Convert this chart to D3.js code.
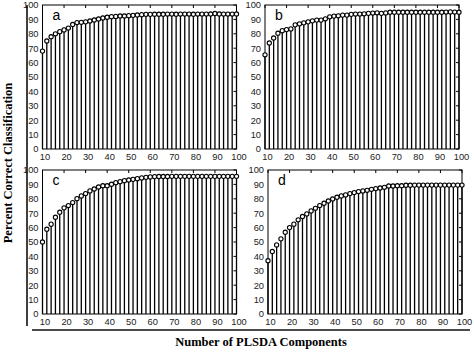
<!DOCTYPE html>
<html><head><meta charset="utf-8">
<script src="https://cdn.jsdelivr.net/npm/d3@7"></script>
<style>
html,body{margin:0;padding:0;background:#fff;}
svg{display:block;}
</style></head>
<body>
<svg id="chart" width="474" height="353"></svg>
<script>
// ---- data ----
const components = d3.range(10, 101, 2); // 10,12,...,100
const xTicks = [10,20,30,40,50,60,70,80,90,100];
const yTicks = [0,10,20,30,40,50,60,70,80,90,100];
const panelLabels = ["a","b","c","d"];
const seriesA = [68,75,78,80,81.5,82.7,84,86.5,87.8,88,88.3,88.9,89.6,90.3,91,91.5,91.9,92.1,92.4,92.4,92.6,92.8,93.1,93.3,93.5,93.5,93.6,93.6,93.6,93.7,93.7,93.6,93.7,93.7,93.7,93.6,93.7,93.7,93.7,93.8,94.1,93.8,93.7,93.7,93.7,93.8];
const seriesB = [65.4,73.6,77.1,80.4,82.2,82.9,83.4,86.2,86.9,87.6,88.3,89,89.5,89.5,90.4,91.8,92.3,92.5,93,93,93.5,93.7,93.7,93.9,94.2,94.4,94.6,94.2,94.5,95,95,95,95,95,95,95,95,95,95,95,95,95,95.1,95.2,95.1,95];
const seriesC = [50,58.9,62.4,67.2,70.7,73.7,75.3,77.4,80.1,82,83.6,85.5,86.8,88.2,89.1,89.1,90.1,91.2,91.9,92.6,93.1,93.5,94,94.5,94.9,95.2,95.4,95.5,95.5,95.5,95.6,95.6,95.6,95.6,95.6,95.6,95.6,95.6,95.6,95.6,95.6,95.6,95.6,95.6,95.6,95.6];
const seriesD = [37,43.4,48,52.2,56.8,60,62.4,65.4,67.7,69.5,71.6,73.4,75.3,76.9,78.5,79.9,81.1,82,82.7,83.6,84.3,85,85.5,85.9,86.6,87.1,87.5,88,88.9,88.9,89.1,89.1,89.4,89.4,89.5,89.5,89.5,89.5,89.5,89.5,89.5,89.5,89.5,89.5,89.5,89.5];
const allSeries = [seriesA, seriesB, seriesC, seriesD];
const yTitle = "Percent Correct Classification";
const xTitle = "Number of PLSDA Components";

// ---- layout ----
const panels = [
  {x0:42.5, x1:236.5, y0:5, y1:149},
  {x0:265,  x1:459,   y0:5, y1:149},
  {x0:42.5, x1:236.5, y0:170, y1:314},
  {x0:268,  x1:462,   y0:170, y1:314}
];
const svg = d3.select("#chart");
const tickFont = "Liberation Sans, Arial, sans-serif";

panels.forEach((p, i) => {
  const x = d3.scaleLinear().domain([10,100]).range([p.x0, p.x1]);
  const y = d3.scaleLinear().domain([0,100]).range([p.y1, p.y0]);
  const g = svg.append("g");
  const data = components.map((c, k) => ({c, v: allSeries[i][k]}));

  // stems
  g.selectAll("line.stem").data(data).enter().append("line")
    .attr("x1", d => x(d.c)).attr("x2", d => x(d.c))
    .attr("y1", y(0)).attr("y2", d => y(d.v))
    .attr("stroke", "#000").attr("stroke-width", 1.3);

  // frame
  g.append("rect").attr("x", p.x0).attr("y", p.y0)
    .attr("width", p.x1 - p.x0).attr("height", p.y1 - p.y0)
    .attr("fill", "none").attr("stroke", "#000").attr("stroke-width", 1);

  // inward ticks top / right
  g.selectAll("line.tt").data(xTicks).enter().append("line")
    .attr("x1", d => x(d)).attr("x2", d => x(d))
    .attr("y1", p.y0).attr("y2", p.y0 + 3).attr("stroke", "#000");
  g.selectAll("line.rt").data(yTicks).enter().append("line")
    .attr("x1", p.x1).attr("x2", p.x1 - 3)
    .attr("y1", d => y(d)).attr("y2", d => y(d)).attr("stroke", "#000");

  // axes labels via d3 axis
  const xa = d3.axisBottom(x).tickValues(xTicks).tickSize(0).tickPadding(4);
  const gx = g.append("g").attr("transform", `translate(2,${p.y1})`).call(xa);
  gx.select(".domain").remove();
  gx.selectAll("text").attr("font-family", tickFont).attr("font-size", 9.3).attr("fill", "#222");

  const ya = d3.axisLeft(y).tickValues(yTicks).tickSize(0).tickPadding(4);
  const gy = g.append("g").attr("transform", `translate(${p.x0},0)`).call(ya);
  gy.select(".domain").remove();
  gy.selectAll("text").attr("font-family", tickFont).attr("font-size", 9.3).attr("fill", "#222");

  // markers
  g.selectAll("circle").data(data).enter().append("circle")
    .attr("cx", d => x(d.c)).attr("cy", d => y(d.v)).attr("r", 2.1)
    .attr("fill", "#fff").attr("stroke", "#000").attr("stroke-width", 1.1);

  // panel letter
  g.append("text").attr("x", p.x0 + 10).attr("y", p.y0 + 15)
    .attr("font-family", tickFont).attr("font-size", 14).attr("fill", "#000")
    .text(panelLabels[i]);
});

// outer axis lines
svg.append("line").attr("x1", 27).attr("x2", 27).attr("y1", 5).attr("y2", 326)
  .attr("stroke", "#000").attr("stroke-width", 1.5);
svg.append("line").attr("x1", 32).attr("x2", 470).attr("y1", 330).attr("y2", 330)
  .attr("stroke", "#111").attr("stroke-width", 1.5);

// titles
svg.append("text").attr("transform", "translate(12,163) rotate(-90)")
  .attr("text-anchor", "middle").attr("font-family", "Liberation Serif, Times New Roman, serif")
  .attr("font-weight", "bold").attr("font-size", 12.5).text(yTitle);
svg.append("text").attr("x", 261).attr("y", 346)
  .attr("text-anchor", "middle").attr("font-family", "Liberation Serif, Times New Roman, serif")
  .attr("font-weight", "bold").attr("font-size", 12.5).text(xTitle);
</script>
</body></html>
